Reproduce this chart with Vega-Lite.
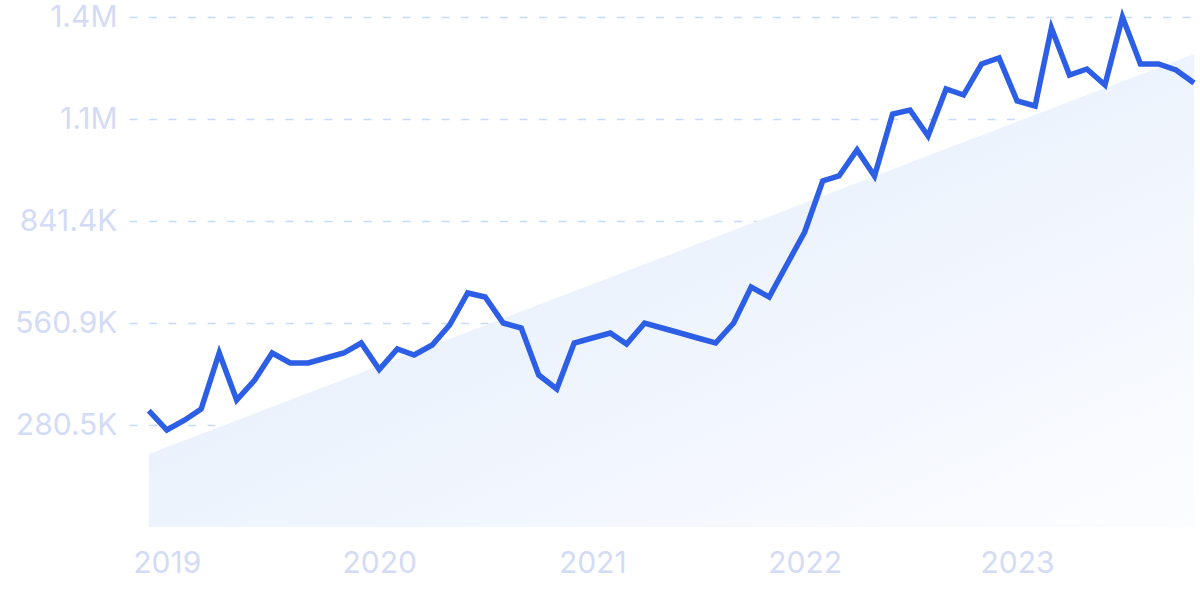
{
  "$schema": "https://vega.github.io/schema/vega-lite/v6.json",
  "width": 1065,
  "height": 510,
  "autosize": {"type": "none"},
  "padding": {"left": 129, "top": 17, "right": 6, "bottom": 72},
  "background": "#ffffff",
  "config": {
    "view": {"stroke": null},
    "font": "Inter",
    "axis": {"labelFont": "Inter", "labelFontSize": 30, "labelColor": "#d3dbf5", "labelFontWeight": 400}
  },
  "datasets": {
    "trend": [
      {"date": "2018-12-01", "value": 200700},
      {"date": "2023-11-01", "value": 1300600}
    ],
    "series": [
      {"date": "2018-12-01", "value": 319800},
      {"date": "2019-01-01", "value": 266700},
      {"date": "2019-02-01", "value": 294200},
      {"date": "2019-03-01", "value": 324500},
      {"date": "2019-04-01", "value": 478400},
      {"date": "2019-05-01", "value": 349200},
      {"date": "2019-06-01", "value": 404200},
      {"date": "2019-07-01", "value": 478400},
      {"date": "2019-08-01", "value": 450900},
      {"date": "2019-09-01", "value": 450900},
      {"date": "2019-10-01", "value": 464700},
      {"date": "2019-11-01", "value": 478400},
      {"date": "2019-12-01", "value": 505900},
      {"date": "2020-01-01", "value": 433100},
      {"date": "2020-02-01", "value": 489400},
      {"date": "2020-03-01", "value": 472900},
      {"date": "2020-04-01", "value": 500400},
      {"date": "2020-05-01", "value": 555400},
      {"date": "2020-06-01", "value": 643400},
      {"date": "2020-07-01", "value": 632400},
      {"date": "2020-08-01", "value": 560900},
      {"date": "2020-09-01", "value": 547200},
      {"date": "2020-10-01", "value": 417900},
      {"date": "2020-11-01", "value": 379400},
      {"date": "2020-12-01", "value": 505900},
      {"date": "2021-01-01", "value": 519700},
      {"date": "2021-02-01", "value": 533400},
      {"date": "2021-03-01", "value": 503200},
      {"date": "2021-04-01", "value": 560900},
      {"date": "2021-05-01", "value": 547200},
      {"date": "2021-06-01", "value": 533400},
      {"date": "2021-07-01", "value": 519700},
      {"date": "2021-08-01", "value": 505900},
      {"date": "2021-09-01", "value": 560900},
      {"date": "2021-10-01", "value": 659900},
      {"date": "2021-11-01", "value": 632400},
      {"date": "2021-12-01", "value": 720400},
      {"date": "2022-01-01", "value": 811100},
      {"date": "2022-02-01", "value": 951400},
      {"date": "2022-03-01", "value": 965100},
      {"date": "2022-04-01", "value": 1036600},
      {"date": "2022-05-01", "value": 965100},
      {"date": "2022-06-01", "value": 1135600},
      {"date": "2022-07-01", "value": 1146600},
      {"date": "2022-08-01", "value": 1075100},
      {"date": "2022-09-01", "value": 1204300},
      {"date": "2022-10-01", "value": 1187800},
      {"date": "2022-11-01", "value": 1273100},
      {"date": "2022-12-01", "value": 1289600},
      {"date": "2023-01-01", "value": 1171300},
      {"date": "2023-02-01", "value": 1157600},
      {"date": "2023-03-01", "value": 1372100},
      {"date": "2023-04-01", "value": 1242800},
      {"date": "2023-05-01", "value": 1259300},
      {"date": "2023-06-01", "value": 1215300},
      {"date": "2023-07-01", "value": 1402300},
      {"date": "2023-08-01", "value": 1273100},
      {"date": "2023-09-01", "value": 1273100},
      {"date": "2023-10-01", "value": 1256600},
      {"date": "2023-11-01", "value": 1220800}
    ]
  },
  "layer": [
    {
      "data": {"name": "trend"},
      "mark": {
        "type": "area",
        "color": {
          "gradient": "linear",
          "x1": 0, "y1": 0, "x2": 1, "y2": 1,
          "stops": [
            {"offset": 0, "color": "#dfeafb"},
            {"offset": 1, "color": "#fcfdff"}
          ]
        }
      },
      "encoding": {
        "x": {
          "field": "date", "type": "temporal",
          "scale": {
            "type": "utc",
            "domain": [
              {"year": 2018, "month": 10, "date": 28, "utc": true},
              {"year": 2023, "month": 11, "date": 1, "utc": true}
            ]
          },
          "axis": {
            "values": [
              {"year": 2019, "month": 1, "date": 1, "utc": true},
              {"year": 2020, "month": 1, "date": 1, "utc": true},
              {"year": 2021, "month": 1, "date": 1, "utc": true},
              {"year": 2022, "month": 1, "date": 1, "utc": true},
              {"year": 2023, "month": 1, "date": 1, "utc": true}
            ],
            "format": "%Y",
            "formatType": "utc",
            "title": null,
            "domain": false,
            "ticks": false,
            "tickSize": 0,
            "grid": false,
            "labelBaseline": "middle",
            "labelPadding": 36,
            "labelAlign": "center",
            "labelOverlap": false,
            "labelBound": false,
            "labelFlush": false
          }
        },
        "y": {
          "field": "value", "type": "quantitative",
          "scale": {"domain": [0, 1402300], "nice": false, "zero": true},
          "axis": {
            "values": [280460, 560920, 841380, 1121840, 1402300],
            "labelExpr": "datum.value >= 1000000 ? format(datum.value / 1000000, '.1f') + 'M' : format(datum.value / 1000, '.1f') + 'K'",
            "title": null,
            "domain": false,
            "ticks": false,
            "tickSize": 0,
            "labelPadding": 12,
            "labelBaseline": "middle",
            "grid": true,
            "gridColor": "#c6dbfb",
            "gridWidth": 1.5,
            "gridDash": [8, 11.5]
          }
        }
      }
    },
    {
      "data": {"name": "series"},
      "mark": {"type": "line", "color": "#2d5fe6", "strokeWidth": 5.5},
      "encoding": {
        "x": {"field": "date", "type": "temporal"},
        "y": {"field": "value", "type": "quantitative"}
      }
    }
  ]
}
